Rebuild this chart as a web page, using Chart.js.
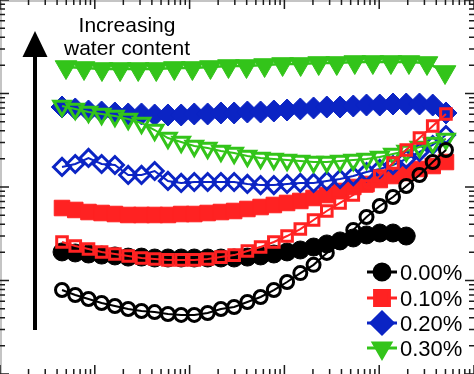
<!DOCTYPE html>
<html>
<head>
<meta charset="utf-8">
<script src="https://cdn.jsdelivr.net/npm/chart.js@4/dist/chart.umd.min.js"></script>
<style>
  html, body { margin: 0; padding: 0; background: #fff; }
  canvas { display: block; }
</style>
</head>
<body>
<canvas id="chart" width="474" height="374"></canvas>
<script>
// frequency sweep (x), log axis
const freq = [4.51, 6.22, 8.58, 11.8, 16.3, 22.5, 31.1, 42.8, 59.1, 81.5, 112, 155, 214, 295, 407,
              561, 774, 1067, 1472, 2031, 2801, 3864, 5329, 7349, 10140, 13980, 19290, 26600, 36690, 50600];
const freqWide = [4.97, 7.70, 11.9, 18.5, 28.7, 44.5, 69.0, 107, 166, 257, 398, 618, 957, 1484,
                  2300, 3566, 5528, 8570, 13290, 20590, 31930, 49490];

const labels = ['0.00%', '0.10%', '0.20%', '0.30%'];
const colors = ['#000000', '#ff2222', '#0b24c4', '#33c41a'];

// filled symbols
const solid00 = [20.2, 19.7, 19.2, 18.7, 18.3, 17.8, 17.8, 17.4, 17.4, 17.4, 17.4, 17.4, 17.4, 17.4,
                 17.8, 18.3, 19.2, 20.2, 21.2, 22.8, 24.6, 26.5, 28.5, 30.7, 32.2, 32.2, 29.9];
const solid10 = [59.6, 56.8, 54.0, 52.7, 51.4, 50.2, 50.2, 50.2, 50.2, 51.4, 51.4, 52.7, 54.0, 55.4, 58.2,
                 61.1, 64.2, 67.5, 70.9, 76.3, 82.1, 90.6, 100, 107.7, 118.8, 131.1, 141.1, 155.8, 167.7, 185.1];
const solid20 = [717, 683, 650, 634, 619, 604, 604, 589, 589, 589, 604, 604, 619, 619, 634,
                 634, 650, 666, 683, 700, 717, 717, 735, 753, 753, 772, 772, 772, 753, 619];
const solid30 = [1920, 1874, 1828, 1828, 1828, 1828, 1874, 1874, 1920, 1968, 1968, 2017, 2068, 2068,
                 2120, 2120, 2172, 2172, 2172, 2172, 2120, 1698];

// open symbols
const open00 = [7.91, 7.00, 6.34, 5.75, 5.34, 4.96, 4.72, 4.60, 4.38, 4.28, 4.28, 4.49, 4.96, 5.21, 5.89,
                6.66, 7.91, 9.64, 12.0, 14.7, 19.7, 25.8, 34.7, 47.8, 62.6, 78.2, 102.5, 134.4, 185.1, 248.7];
const open10 = [25.8, 23.4, 21.7, 20.2, 19.2, 18.3, 17.4, 17.0, 16.6, 16.6, 16.6, 17.0, 17.8, 18.7, 20.7,
                22.8, 25.8, 29.9, 35.5, 44.4, 55.4, 67.5, 82.1, 102.5, 131.1, 180.6, 248.7, 334.3, 449.1, 603.5];
const open20 = [163.7, 176.2, 204.3, 176.2, 171.9, 134.4, 134.4, 148.3, 116.0, 110.4, 113.1, 113.1, 113.1, 113.1, 107.7,
                105.0, 105.0, 107.7, 110.4, 110.4, 116.0, 121.8, 131.1, 144.6, 155.8, 171.9, 199.3, 236.8, 281.3, 359.8];
const open30 = [735, 683, 634, 604, 575, 534, 484, 407, 334, 303, 275, 261, 243, 231, 215,
                204, 199, 195, 190, 185, 185, 190, 195, 199, 209, 225, 243, 268, 296, 326];

const styles = [
    { pointStyle: 'circle', rotation: 0 },
    { pointStyle: 'rect', rotation: 0 },
    { pointStyle: 'rectRot', rotation: 0 },
    { pointStyle: 'triangle', rotation: 180 }
];
const solidRadius = [9, 11, 11, 12.5];
const openRadius = [6.5, 7.5, 8.5, 9.5];

const FONT = '"Liberation Sans", Arial, sans-serif';

function pairs(xs, ys) {
    return ys.map((v, i) => ({ x: xs[i], y: v }));
}

function solidSet(i, xs, ys) {
    return {
        label: labels[i],
        data: pairs(xs, ys),
        showLine: true,
        borderColor: colors[i],
        borderWidth: 2.5,
        pointStyle: styles[i].pointStyle,
        pointRotation: styles[i].rotation,
        pointRadius: solidRadius[i],
        pointBackgroundColor: colors[i],
        pointBorderColor: colors[i],
        pointBorderWidth: 1
    };
}

function openSet(i, xs, ys) {
    return {
        label: labels[i] + ' open',
        data: pairs(xs, ys),
        showLine: true,
        borderColor: colors[i],
        borderWidth: 2,
        pointStyle: styles[i].pointStyle,
        pointRotation: styles[i].rotation,
        pointRadius: openRadius[i],
        pointBackgroundColor: 'rgba(0,0,0,0)',
        pointBorderColor: colors[i],
        pointBorderWidth: 3
    };
}

// first dataset is drawn on top
const datasets = [
    openSet(0, freq, open00),
    openSet(1, freq, open10),
    openSet(3, freq, open30),
    openSet(2, freq, open20),
    solidSet(0, freq, solid00),
    solidSet(1, freq, solid10),
    solidSet(2, freq, solid20),
    solidSet(3, freqWide, solid30)
];

// inward log ticks on all four sides, plus the visible bits of the frame
const frame = {
    id: 'frame',
    afterDatasetsDraw(chart) {
        const { ctx, chartArea: a, scales: { x, y } } = chart;
        ctx.save();
        ctx.fillStyle = '#c4c4c4';
        ctx.fillRect(a.left, a.top, a.right - a.left, 2);
        ctx.fillRect(a.left, a.top, 2, a.bottom - a.top);

        ctx.strokeStyle = '#1c1c1c';
        ctx.lineWidth = 1.5;
        ctx.beginPath();
        for (let d = 0; d <= 5; d++) {
            for (let m = 1; m < 10; m++) {
                if (d === 5 && m > 1) break;
                const px = x.getPixelForValue(m * Math.pow(10, d));
                const len = m === 1 ? 9 : 5;
                ctx.moveTo(px, a.top); ctx.lineTo(px, a.top + len);
                ctx.moveTo(px, a.bottom); ctx.lineTo(px, a.bottom - len);
            }
        }
        for (let d = 0; d <= 4; d++) {
            for (let m = 1; m < 10; m++) {
                if (d === 4 && m > 1) break;
                const py = y.getPixelForValue(m * Math.pow(10, d));
                const len = m === 1 ? 9 : 5;
                ctx.moveTo(a.left, py); ctx.lineTo(a.left + len, py);
                ctx.moveTo(a.right, py); ctx.lineTo(a.right - len, py);
            }
        }
        ctx.stroke();
        ctx.restore();
    }
};

// arrow + caption, and the legend in the lower right corner
const notes = {
    id: 'notes',
    afterDraw(chart) {
        const { ctx } = chart;
        ctx.save();
        ctx.fillStyle = '#000';
        ctx.fillRect(33, 52, 4, 278);
        ctx.beginPath();
        ctx.moveTo(35, 31);
        ctx.lineTo(47.5, 57);
        ctx.lineTo(22.5, 57);
        ctx.closePath();
        ctx.fill();

        ctx.font = '21px ' + FONT;
        ctx.textAlign = 'center';
        ctx.textBaseline = 'alphabetic';
        ctx.fillText('Increasing', 127, 32);
        ctx.fillText('water content', 127, 55);

        const rows = [272, 298, 323, 348];
        ctx.textAlign = 'left';
        ctx.font = '22px ' + FONT;
        labels.forEach((label, i) => {
            const yc = rows[i];
            ctx.strokeStyle = colors[i];
            ctx.fillStyle = colors[i];
            ctx.lineWidth = 3;
            ctx.beginPath();
            ctx.moveTo(367, yc);
            ctx.lineTo(397, yc);
            ctx.stroke();
            Chart.helpers.drawPoint(ctx, {
                pointStyle: styles[i].pointStyle,
                rotation: styles[i].rotation,
                radius: [8, 10.5, 11, 10][i],
                borderWidth: 1
            }, 382, yc);
            ctx.fillStyle = '#000';
            ctx.fillText(label, 400, yc + 8);
        });
        ctx.restore();
    }
};

new Chart(document.getElementById('chart').getContext('2d'), {
    type: 'scatter',
    data: { datasets },
    options: {
        responsive: false,
        animation: false,
        devicePixelRatio: 1,
        layout: { padding: 0, autoPadding: false },
        plugins: {
            legend: { display: false },
            tooltip: { enabled: false }
        },
        scales: {
            x: { type: 'logarithmic', min: 1, max: 1e5, display: false },
            y: { type: 'logarithmic', min: 1, max: 1e4, display: false }
        }
    },
    plugins: [frame, notes]
});
</script>
</body>
</html>
